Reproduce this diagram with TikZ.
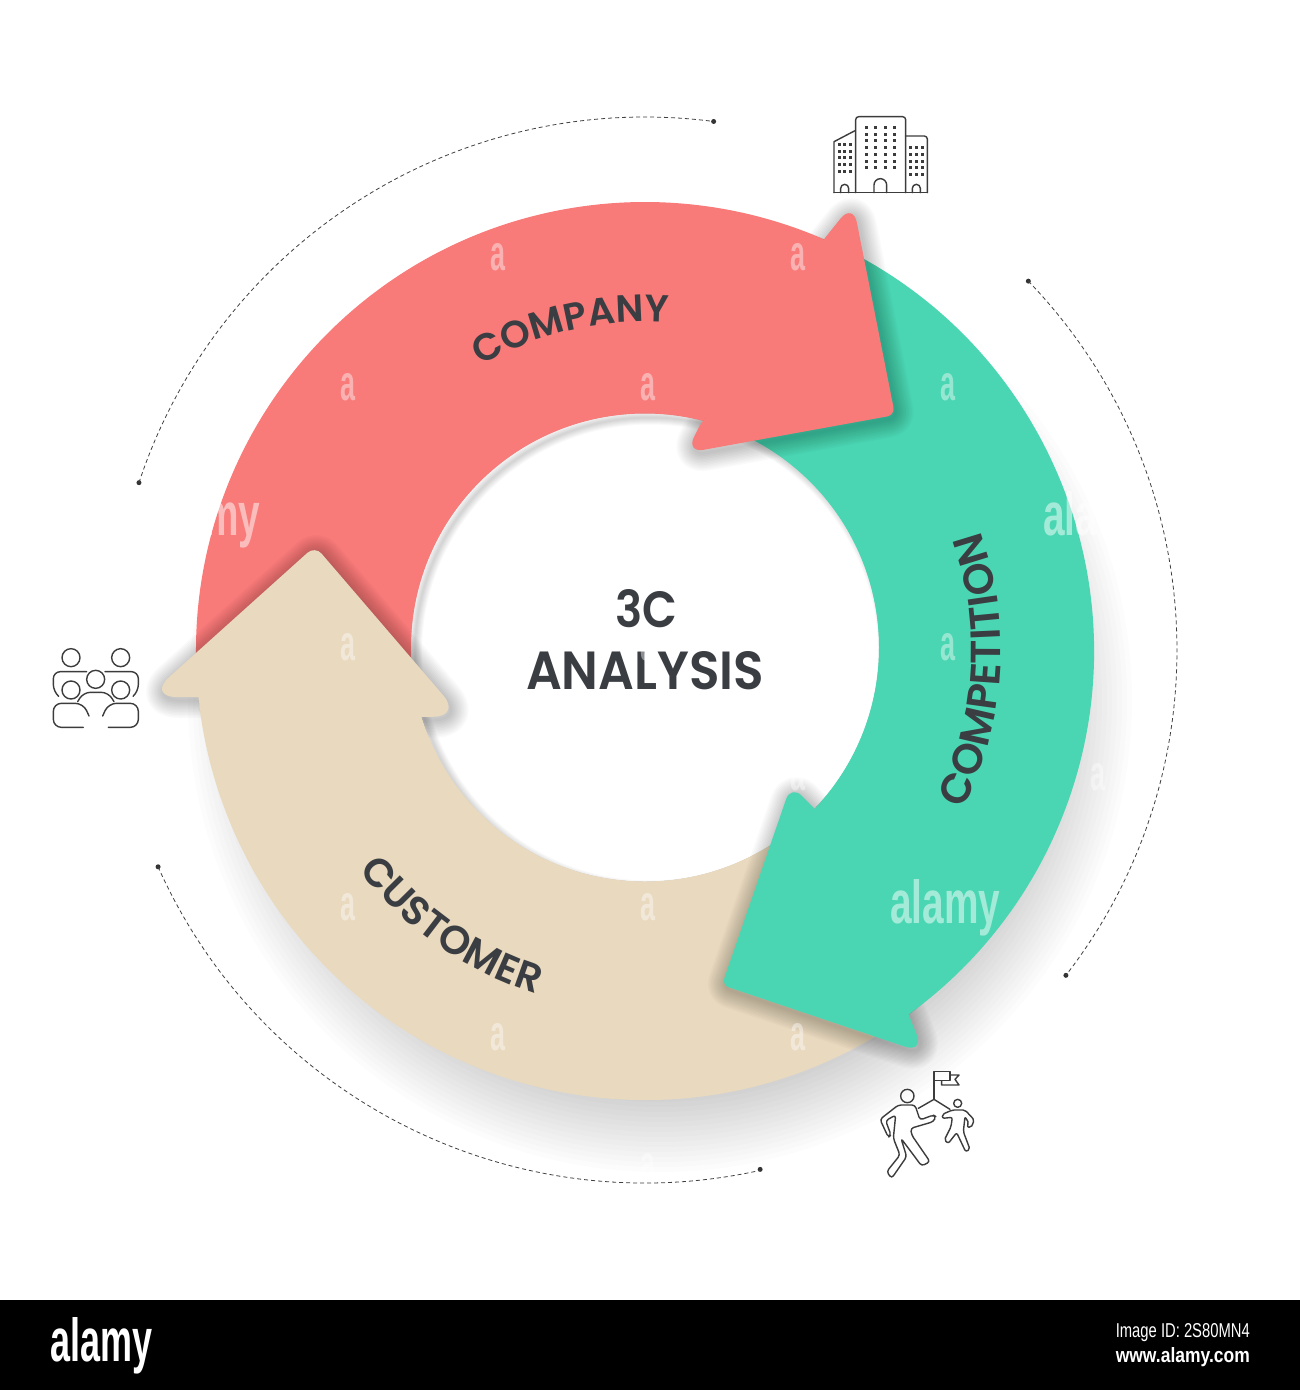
\documentclass[tikz,border=0pt]{standalone}
\usepackage{fontspec}
\usepackage{graphicx}
\usetikzlibrary{decorations.text,calc}
\newfontfamily\fut{Poppins SemiBold}
\newfontfamily\wm{Liberation Sans Bold}
\setmainfont{Liberation Sans}
\definecolor{redc}{HTML}{F87A79}
\definecolor{greenc}{HTML}{4AD6B2}
\definecolor{beigec}{HTML}{E9D9BE}
\definecolor{txt}{HTML}{3A3D42}
\definecolor{ico}{HTML}{3C3C3C}
\tikzset{
  dotmark/.style={circle,fill=black!80,inner sep=0pt,minimum size=5pt},
  dashline/.style={draw=black!75,line width=0.8pt,dash pattern=on 4pt off 3pt},
  icon/.style={draw=ico,line width=1.4pt,line join=round,line cap=round},
  title/.style={text=txt,font=\fut,inner sep=0pt},
  mark a/.style={inner sep=0pt,text=white,text opacity=0.42,font=\wm},
  mark full/.style={inner sep=0pt,text=white,text opacity=0.5,font=\wm}
}
\newcommand\tailpath[4]{([shift={(645,651)}]#1:449) arc[start angle=#1,end angle=#2,radius=449] -- ([shift={(645,647.5)}]#3:234) arc[start angle=#3,end angle=#4,radius=234] -- cycle}
\newcommand\redhead{(825,238) [rounded corners=20pt] -- (853,203) [rounded corners=8pt] -- (895,415) [rounded corners=18pt] -- (686,453) [sharp corners] -- (699,427) -- cycle}
\newcommand\greenhead{(815,809) [rounded corners=15pt] -- (791,785) [rounded corners=7pt] -- (722,985) [rounded corners=20pt] -- (924,1053) [sharp corners] -- (908,1013) -- cycle}
\newcommand\beigehead{(196,697) [rounded corners=30pt] -- (147,697) [rounded corners=10pt] -- (315,546) [rounded corners=27pt] -- (461,716) [sharp corners] -- (423,717) -- cycle}
\newcommand\headshadow[2]{%
  \begin{scope}[even odd rule]
    \clip (-10,-10) rectangle (1310,1300) #1;
    \foreach \w in {3,6,...,36}{
      \path[draw=black,opacity=0.019,line width=\w pt,line join=round,shift={(2,3)}] #2;
    }
  \end{scope}}
\begin{document}
\begin{tikzpicture}[x=1pt,y=1pt,yscale=-1]
\path[use as bounding box,fill=white] (0,0) rectangle (1300,1390);

% soft drop shadow of the ring
\foreach \r in {472,467,...,382}{
  \fill[black,opacity=0.012] (660,700) circle[radius=\r];
}
\fill[white] (645,647.5) circle[radius=234];
\begin{scope}
  \clip (645,647.5) circle[radius=234];
  \foreach \w in {2,4,...,14}{
    \draw[black,opacity=0.022,line width=\w pt] (650,652.5) circle[radius=235];
  }
\end{scope}

% dashed outer arcs
\node[dotmark] (a1s) at ([shift={(645,650)}]198.3:533) {};
\node[dotmark] (a1e) at ([shift={(645,650)}]277.4:533) {};
\node[dotmark] (a2s) at ([shift={(645,650)}]-43.9:532) {};
\node[dotmark] (a2e) at ([shift={(645,650)}]37.7:532) {};
\node[dotmark] (a3s) at ([shift={(645,650)}]156:533) {};
\node[dotmark] (a3e) at ([shift={(645,650)}]77.5:532) {};
\draw[dashline] (a1s.center) arc[start angle=198.3,end angle=277.4,radius=533];
\draw[dashline] (a2s.center) arc[start angle=-43.9,end angle=37.7,radius=532];
\draw[dashline] (a3s.center) arc[start angle=156,end angle=77.5,radius=533];

% band tails
\fill[redc] \tailpath{175}{294.6}{284.4}{175};
\fill[greenc] \tailpath{295}{415}{404}{294};
\fill[beigec] \tailpath{57}{175}{164}{54};

% head shadows
\headshadow{\tailpath{175}{294.6}{284.4}{175}}{\redhead}
\headshadow{\tailpath{295}{415}{404}{294}}{\greenhead}
\headshadow{\tailpath{57}{175}{164}{54}}{\beigehead}

% arrow heads
\fill[redc] \redhead;
\fill[greenc] \greenhead;
\fill[beigec] \beigehead;

% labels
\node[title] (tc) at (646,609) {\resizebox{62pt}{38pt}{3C}};
\node[title] (tan) at (645,671) {\resizebox{238pt}{38pt}{ANALYSIS}};
\begin{scope}[shift={(645,650)},yscale=-1]
  \path[decorate,decoration={text along path,text align=center,
    text={|\color{txt}\fut\fontsize{38}{38}\selectfont|COMPANY}}]
    (140.5:328) arc[start angle=140.5,end angle=65.5,radius=328];
  \path[decorate,decoration={text along path,text align=center,
    text={|\color{txt}\fut\fontsize{42}{42}\selectfont|COMPETITION}}]
    (-36:356) arc[start angle=-36,end angle=29,radius=356];
  \path[decorate,decoration={text along path,text align=center,
    text={|\color{txt}\fut\fontsize{40}{40}\selectfont|CUSTOMER}}]
    (199:361) arc[start angle=199,end angle=271,radius=361];
\end{scope}

% building icon
\begin{scope}[shift={(810,100)},scale=1/3]
  \draw[icon] (72,278) -- (352,278);
  \draw[icon] (72,278) -- (72,125) -- (135,92);
  \draw[icon,rounded corners=3pt] (137,278) -- (137,50) -- (287,50) -- (287,278);
  \draw[icon,rounded corners=3pt] (287,108) -- (352,108) -- (352,278);
  \draw[icon] (192,278) -- (192,255) arc[start angle=180,end angle=360,radius=19] -- (230,278);
  \draw[icon] (92,278) -- (92,265) arc[start angle=180,end angle=360,radius=12] -- (116,278);
  \draw[icon] (307,278) -- (307,265) arc[start angle=180,end angle=360,radius=12] -- (331,278);
  \foreach \x in {168,197,226,254}\foreach \y in {81,102,122,142,163,183,203}
    \fill[ico] (\x-4.5,\y-4.5) rectangle (\x+4.5,\y+4.5);
  \foreach \x in {87,104,121}\foreach \y in {132,153,173,194,214}
    \fill[ico] (\x-4.5,\y-4.5) rectangle (\x+4.5,\y+4.5);
  \foreach \x in {302,319,336}\foreach \y in {142,162,183,203,224}
    \fill[ico] (\x-4.5,\y-4.5) rectangle (\x+4.5,\y+4.5);
\end{scope}

% people icon
\begin{scope}[shift={(40,640)},scale=1/3]
  \draw[icon] (93,53) circle[radius=27];
  \draw[icon] (242,53) circle[radius=27];
  \draw[icon] (167,118) circle[radius=27];
  \draw[icon] (93,150) circle[radius=27];
  \draw[icon] (242,150) circle[radius=27];
  \draw[icon,rounded corners=7pt] (55,168) -- (40,155) -- (40,95) -- (140,95);
  \draw[icon,rounded corners=7pt] (280,168) -- (295,155) -- (295,95) -- (195,95);
  \draw[icon,rounded corners=7pt] (113,185) -- (130,157) -- (205,157) -- (222,185);
  \draw[icon,rounded corners=8pt] (130,262) -- (40,262) -- (40,190) -- (130,190) -- (147,228);
  \draw[icon,rounded corners=8pt] (205,262) -- (295,262) -- (295,190) -- (205,190) -- (188,228);
\end{scope}

% runners icon
\begin{scope}[shift={(865,1060)},scale=1/3]
  \draw[icon] (207,118) -- (207,35) -- (255,35) -- (255,62) -- (207,62);
  \draw[icon] (255,45) -- (282,45) -- (270,58) -- (282,75) -- (230,75) -- (230,62);
  \draw[icon] (160,145) -- (207,118) -- (255,148);
  \draw[icon] (127,108) circle[radius=20];
  \draw[icon,rounded corners=3pt] (150,135) -- (100,135) -- (45,178) -- (70,232) -- (78,225) -- (62,182) -- (92,165) -- (85,235) -- (105,285) -- (65,335) -- (80,355) -- (125,290) -- (108,235) -- (170,318) -- (195,305) -- (140,225) -- (137,205) -- (205,185) -- (213,170) -- (205,165) -- (165,180) -- cycle;
  \draw[icon] (278,130) circle[radius=12];
  \draw[icon,rounded corners=2pt] (262,150) -- (232,163) -- (232,175) -- (262,172) -- (258,200) -- (238,240) -- (250,250) -- (275,218) -- (302,275) -- (315,268) -- (295,215) -- (300,170) -- (312,190) -- (305,200) -- (318,203) -- (328,180) -- (300,150) -- cycle;
\end{scope}

% footer
\fill[black] (0,1300) rectangle (1300,1390);
\node[inner sep=0pt,anchor=base west,text=white,font=\wm] (logo) at (50,1361) {\resizebox{102pt}{44pt}{alamy}};
\node[inner sep=0pt,anchor=base east,text=white] (fid) at (1250,1337) {\resizebox{134pt}{14pt}{Image ID: 2S80MN4}};
\node[inner sep=0pt,anchor=base east,text=white,font=\wm] (fweb) at (1250,1362) {\resizebox{134pt}{15pt}{www.alamy.com}};

% watermark
\node[mark full,anchor=base west] (w1) at (890,923) {\resizebox{110pt}{44pt}{alamy}};
\node[mark full,anchor=base west] (w2) at (150,535) {\resizebox{110pt}{44pt}{alamy}};
\node[mark full,anchor=base west] (w3) at (1043,535) {\resizebox{110pt}{44pt}{alamy}};
\foreach \p [count=\i] in {(498,257),(798,257),(348,387),(648,387),(948,387),(348,647),(648,647),(948,647),(498,777),(798,777),(1098,777),(348,907),(648,907),(498,1037),(798,1037),(648,1167)}{
  \node[mark a] (m\i) at \p {\resizebox{15pt}{27pt}{a}};
}
\end{tikzpicture}
\end{document}
